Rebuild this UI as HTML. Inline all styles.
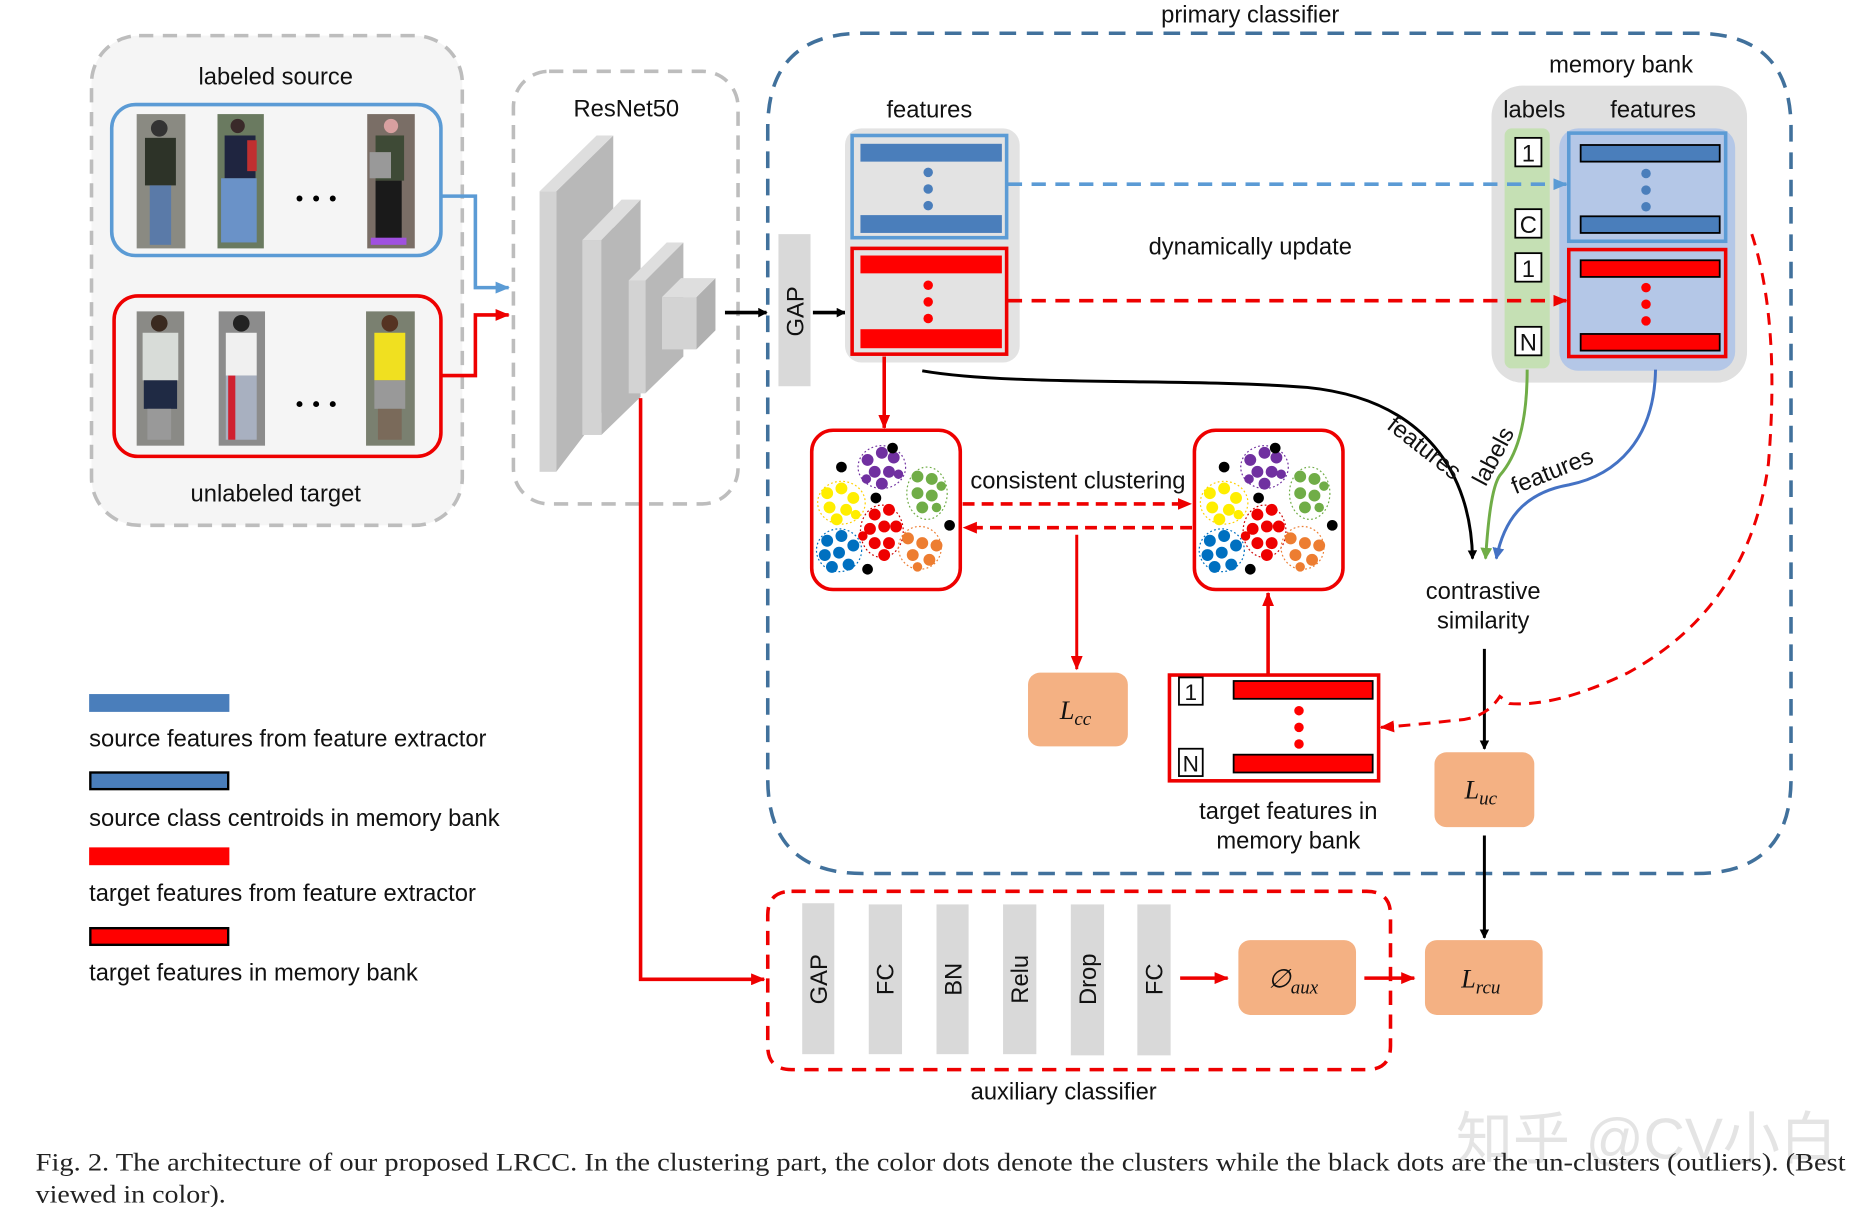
<!DOCTYPE html>
<html><head><meta charset="utf-8"><style>
html,body{margin:0;padding:0;background:#fff;}
svg{display:block;}
text{font-family:"Liberation Sans",sans-serif;fill:#111;}
.lbl{font-size:20px;}
.it{font-family:"Liberation Serif",serif;font-style:italic;}
</style></head><body>
<svg width="1854" height="1207" viewBox="0 0 1560 1015.6" preserveAspectRatio="none" xmlns="http://www.w3.org/2000/svg">
<defs>
<marker id="ab" markerWidth="8" markerHeight="8" refX="7" refY="4" orient="auto" markerUnits="userSpaceOnUse"><path d="M0,0 L8,4 L0,8 z" fill="#000"/></marker>
<marker id="ar" markerWidth="12" markerHeight="10" refX="11" refY="5" orient="auto" markerUnits="userSpaceOnUse"><path d="M0,0 L12,5 L0,10 z" fill="#e00"/></marker>
<marker id="al" markerWidth="12" markerHeight="10" refX="11" refY="5" orient="auto" markerUnits="userSpaceOnUse"><path d="M0,0 L12,5 L0,10 z" fill="#5b9bd5"/></marker>
<marker id="ag" markerWidth="10" markerHeight="10" refX="9" refY="5" orient="auto" markerUnits="userSpaceOnUse"><path d="M0,0 L10,5 L0,10 z" fill="#70ad47"/></marker>
<marker id="abl" markerWidth="10" markerHeight="10" refX="9" refY="5" orient="auto" markerUnits="userSpaceOnUse"><path d="M0,0 L10,5 L0,10 z" fill="#4472c4"/></marker>
<g id="cl">
 <ellipse cx="56" cy="30" rx="20" ry="18" fill="none" stroke="#7030a0" stroke-dasharray="1.5,2"/>
 <g fill="#7030a0"><circle cx="44" cy="24" r="5"/><circle cx="56" cy="18" r="5"/><circle cx="66" cy="22" r="5"/><circle cx="50" cy="34" r="5"/><circle cx="62" cy="34" r="5"/><circle cx="70" cy="36" r="4"/><circle cx="56" cy="44" r="5"/><circle cx="43" cy="40" r="4"/></g>
 <ellipse cx="94" cy="52" rx="17" ry="22" fill="none" stroke="#70ad47" stroke-dasharray="1.5,2"/>
 <g fill="#70ad47"><circle cx="86" cy="38" r="5"/><circle cx="98" cy="40" r="5"/><circle cx="86" cy="52" r="5"/><circle cx="98" cy="54" r="5"/><circle cx="90" cy="64" r="5"/><circle cx="102" cy="64" r="4"/><circle cx="106" cy="46" r="4"/></g>
 <ellipse cx="22" cy="60" rx="20" ry="18" fill="none" stroke="#ffd000" stroke-dasharray="1.5,2"/>
 <g fill="#ffee00"><circle cx="10" cy="52" r="5"/><circle cx="22" cy="48" r="5"/><circle cx="32" cy="56" r="5"/><circle cx="12" cy="64" r="5"/><circle cx="26" cy="66" r="5"/><circle cx="18" cy="74" r="5"/><circle cx="34" cy="70" r="4"/></g>
 <ellipse cx="56" cy="84" rx="18" ry="22" fill="none" stroke="#c00" stroke-dasharray="1.5,2"/>
 <g fill="#e00"><circle cx="50" cy="70" r="5"/><circle cx="62" cy="66" r="5"/><circle cx="46" cy="82" r="5"/><circle cx="58" cy="80" r="5"/><circle cx="68" cy="80" r="5"/><circle cx="50" cy="94" r="5"/><circle cx="62" cy="94" r="5"/><circle cx="58" cy="104" r="5"/><circle cx="40" cy="88" r="4"/></g>
 <ellipse cx="20" cy="100" rx="19" ry="18" fill="none" stroke="#0070c0" stroke-dasharray="1.5,2"/>
 <g fill="#0070c0"><circle cx="10" cy="92" r="5"/><circle cx="22" cy="88" r="5"/><circle cx="32" cy="96" r="5"/><circle cx="8" cy="104" r="5"/><circle cx="20" cy="102" r="5"/><circle cx="14" cy="114" r="5"/><circle cx="28" cy="112" r="5"/></g>
 <ellipse cx="88" cy="98" rx="18" ry="18" fill="none" stroke="#ed7d31" stroke-dasharray="1.5,2"/>
 <g fill="#ed7d31"><circle cx="78" cy="90" r="5"/><circle cx="90" cy="94" r="5"/><circle cx="102" cy="96" r="5"/><circle cx="82" cy="104" r="5"/><circle cx="96" cy="108" r="5"/><circle cx="86" cy="114" r="4"/></g>
 <g fill="#000"><circle cx="22" cy="30" r="4.5"/><circle cx="65" cy="14" r="4.5"/><circle cx="51" cy="56" r="4.5"/><circle cx="113" cy="79" r="4.5"/><circle cx="44" cy="116" r="4.5"/></g>
</g>
</defs>

<!-- input box -->
<rect x="77" y="30" width="312" height="412" rx="40" fill="#f5f5f5" stroke="#bdbdbd" stroke-width="3" stroke-dasharray="12,8"/>
<text x="232" y="71" class="lbl" text-anchor="middle">labeled source</text>
<rect x="94" y="88" width="277" height="127" rx="20" fill="#f5f5f5" stroke="#5b9bd5" stroke-width="3"/>
<rect x="115" y="96" width="41" height="113" fill="#8a8a82"/><circle cx="134" cy="108" r="7" fill="#333"/><rect x="122" y="116" width="26" height="40" fill="#2d3328"/><rect x="126" y="156" width="18" height="50" fill="#5a7aa8"/>
<rect x="183" y="96" width="39" height="113" fill="#6a7a60"/><circle cx="200" cy="106" r="6" fill="#3a2a2a"/><rect x="189" y="114" width="26" height="36" fill="#1f2540"/><rect x="208" y="118" width="8" height="26" fill="#c03030"/><rect x="186" y="150" width="30" height="54" fill="#6a92c8"/>
<rect x="309" y="96" width="40" height="113" fill="#7a6e66"/><circle cx="329" cy="106" r="6" fill="#d8a0a0"/><rect x="316" y="114" width="24" height="38" fill="#3e4a36"/><rect x="311" y="128" width="18" height="22" fill="#999"/><rect x="316" y="152" width="22" height="50" fill="#1a1a1a"/><rect x="312" y="200" width="30" height="6" fill="#a050e0"/>
<g fill="#000"><circle cx="252" cy="167" r="2.5"/><circle cx="266" cy="167" r="2.5"/><circle cx="280" cy="167" r="2.5"/></g>
<rect x="96" y="249" width="275" height="135" rx="20" fill="#f5f5f5" stroke="#e00" stroke-width="3"/>
<rect x="115" y="262" width="40" height="113" fill="#8a8a86"/><circle cx="134" cy="272" r="7" fill="#3a2a20"/><rect x="120" y="280" width="30" height="40" fill="#d8dcd8"/><rect x="121" y="320" width="28" height="24" fill="#1f2a44"/><rect x="124" y="344" width="20" height="26" fill="#999"/>
<rect x="184" y="262" width="39" height="113" fill="#8c8c8c"/><circle cx="203" cy="272" r="7" fill="#222"/><rect x="190" y="280" width="26" height="36" fill="#f0f0f0"/><rect x="190" y="316" width="26" height="54" fill="#a8b0c0"/><rect x="192" y="316" width="6" height="54" fill="#d02030"/>
<rect x="308" y="262" width="41" height="113" fill="#7a8070"/><circle cx="328" cy="272" r="7" fill="#553322"/><rect x="315" y="280" width="26" height="40" fill="#f0e020"/><rect x="315" y="320" width="26" height="24" fill="#999"/><rect x="318" y="344" width="20" height="26" fill="#7a6a5a"/>
<g fill="#000"><circle cx="252" cy="340" r="2.5"/><circle cx="266" cy="340" r="2.5"/><circle cx="280" cy="340" r="2.5"/></g>
<text x="232" y="422" class="lbl" text-anchor="middle">unlabeled target</text>
<path d="M371,165 H400 V242 H428" fill="none" stroke="#5b9bd5" stroke-width="3" marker-end="url(#al)"/>
<path d="M371,316 H400 V265 H428" fill="none" stroke="#e00" stroke-width="3" marker-end="url(#ar)"/>

<!-- ResNet -->
<rect x="432" y="60" width="189" height="364" rx="30" fill="#fff" stroke="#bdbdbd" stroke-width="3" stroke-dasharray="12,8"/>
<text x="527" y="98" class="lbl" text-anchor="middle">ResNet50</text>
<g>
 <polygon points="468,161 516,114 516,334 468,397" fill="#b8b8b8"/>
 <polygon points="454,161 502,114 516,114 468,161" fill="#dedede"/>
 <rect x="454" y="161" width="14" height="236" fill="#d3d3d3"/>
 <polygon points="506,202 539,168 539,334 506,366" fill="#b8b8b8"/>
 <polygon points="490,202 523,168 539,168 506,202" fill="#dedede"/>
 <rect x="490" y="202" width="16" height="164" fill="#d3d3d3"/>
 <polygon points="543,236 575,204 575,300 543,331" fill="#b8b8b8"/>
 <polygon points="529,236 561,204 575,204 543,236" fill="#dedede"/>
 <rect x="529" y="236" width="14" height="95" fill="#d3d3d3"/>
 <polygon points="586,250 602,234 602,278 586,294" fill="#b0b0b0"/>
 <polygon points="557,250 573,234 602,234 586,250" fill="#dedede"/>
 <rect x="557" y="250" width="29" height="44" fill="#d3d3d3"/>
</g>
<line x1="610" y1="263" x2="645" y2="263" stroke="#000" stroke-width="3" marker-end="url(#ab)"/>

<!-- primary classifier -->
<path d="M726,28 H1427 Q1507,28 1507,108 V655 Q1507,735 1427,735 H726 Q646,735 646,655 V108 Q646,28 726,28 Z" fill="none" stroke="#41719c" stroke-width="3" stroke-dasharray="14,9"/>
<text x="1052" y="19" class="lbl" text-anchor="middle">primary classifier</text>
<rect x="655" y="197" width="27" height="128" fill="#d9d9d9"/>
<text class="lbl" transform="translate(676,262) rotate(-90)" text-anchor="middle">GAP</text>
<line x1="684" y1="263" x2="711" y2="263" stroke="#000" stroke-width="3" marker-end="url(#ab)"/>

<text x="782" y="99" class="lbl" text-anchor="middle">features</text>
<rect x="711" y="108" width="147" height="197" rx="14" fill="#e3e3e3"/>
<rect x="717" y="114" width="130" height="86" fill="#e3e3e3" stroke="#5b9bd5" stroke-width="3"/>
<rect x="724" y="121" width="119" height="15" fill="#4a7ebb"/><rect x="724" y="181" width="119" height="15" fill="#4a7ebb"/>
<g fill="#4a7ebb"><circle cx="781" cy="145" r="4"/><circle cx="781" cy="159" r="4"/><circle cx="781" cy="173" r="4"/></g>
<rect x="717" y="209" width="130" height="89" fill="#e3e3e3" stroke="#e00" stroke-width="3"/>
<rect x="724" y="215" width="119" height="15" fill="#f00"/><rect x="724" y="277" width="119" height="16" fill="#f00"/>
<g fill="#f00"><circle cx="781" cy="240" r="4"/><circle cx="781" cy="254" r="4"/><circle cx="781" cy="268" r="4"/></g>

<text x="1052" y="214" class="lbl" text-anchor="middle">dynamically update</text>

<!-- memory bank -->
<text x="1364" y="61" class="lbl" text-anchor="middle">memory bank</text>
<rect x="1255" y="72" width="215" height="250" rx="26" fill="#e0e0e0"/>
<text x="1291" y="99" class="lbl" text-anchor="middle">labels</text>
<text x="1391" y="99" class="lbl" text-anchor="middle">features</text>
<rect x="1266" y="108" width="38" height="202" rx="6" fill="#c5e0b4"/>
<g fill="#fff" stroke="#000" stroke-width="1.5">
<rect x="1275" y="116" width="22" height="24"/><rect x="1275" y="176" width="22" height="24"/><rect x="1275" y="213" width="22" height="24"/><rect x="1275" y="275" width="22" height="24"/></g>
<g font-size="20" text-anchor="middle"><text x="1286" y="136">1</text><text x="1286" y="196">C</text><text x="1286" y="233">1</text><text x="1286" y="295">N</text></g>
<rect x="1312" y="108" width="148" height="204" rx="16" fill="#b4c7e7"/>
<rect x="1320" y="112" width="132" height="91" fill="none" stroke="#5b9bd5" stroke-width="3"/>
<rect x="1330" y="122" width="117" height="14" fill="#4a7ebb" stroke="#000" stroke-width="1.5"/><rect x="1330" y="182" width="117" height="14" fill="#4a7ebb" stroke="#000" stroke-width="1.5"/>
<g fill="#4a7ebb"><circle cx="1385" cy="146" r="4"/><circle cx="1385" cy="160" r="4"/><circle cx="1385" cy="174" r="4"/></g>
<rect x="1320" y="210" width="132" height="90" fill="none" stroke="#e00" stroke-width="3"/>
<rect x="1330" y="219" width="117" height="14" fill="#f00" stroke="#000" stroke-width="1.5"/><rect x="1330" y="281" width="117" height="14" fill="#f00" stroke="#000" stroke-width="1.5"/>
<g fill="#f00"><circle cx="1385" cy="242" r="4"/><circle cx="1385" cy="256" r="4"/><circle cx="1385" cy="270" r="4"/></g>

<line x1="848" y1="155" x2="1318" y2="155" stroke="#5b9bd5" stroke-width="3" stroke-dasharray="12,8" marker-end="url(#al)"/>
<line x1="848" y1="253" x2="1318" y2="253" stroke="#e00" stroke-width="3" stroke-dasharray="12,8" marker-end="url(#ar)"/>

<!-- curves -->
<path d="M776,312 C850,325 1000,318 1100,326 C1200,336 1238,400 1239,470" fill="none" stroke="#000" stroke-width="2.5" marker-end="url(#ab)"/>
<path d="M1285,311 C1285,360 1275,385 1262,400 C1255,410 1252,440 1250,470" fill="none" stroke="#70ad47" stroke-width="2.5" marker-end="url(#ag)"/>
<path d="M1393,311 C1392,370 1360,400 1320,408 C1280,415 1265,440 1259,470" fill="none" stroke="#4472c4" stroke-width="2.5" marker-end="url(#abl)"/>
<text class="lbl" transform="translate(1166,360) rotate(38)">features</text>
<text class="lbl" transform="translate(1250,410) rotate(-62)">labels</text>
<text class="lbl" transform="translate(1275,416) rotate(-22)">features</text>
<text x="1248" y="504" class="lbl" text-anchor="middle">contrastive</text>
<text x="1248" y="529" class="lbl" text-anchor="middle">similarity</text>
<line x1="1249" y1="546" x2="1249" y2="630" stroke="#000" stroke-width="2.5" marker-end="url(#ab)"/>

<path d="M1474,197 Q1498,270 1488,390 Q1472,510 1370,566 Q1310,595 1270,592 L1262,586 Q1250,605 1225,606 Q1190,610 1162,612" fill="none" stroke="#e00" stroke-width="2.5" stroke-dasharray="10,7" marker-end="url(#ar)"/>

<!-- clusters -->
<line x1="744" y1="300" x2="744" y2="360" stroke="#e00" stroke-width="3" marker-end="url(#ar)"/>
<rect x="683" y="362" width="125" height="134" rx="18" fill="#fff" stroke="#e00" stroke-width="3"/>
<use href="#cl" x="686" y="363"/>
<rect x="1005" y="362" width="125" height="134" rx="18" fill="#fff" stroke="#e00" stroke-width="3"/>
<use href="#cl" x="1008" y="363"/>
<text x="907" y="411" class="lbl" text-anchor="middle">consistent clustering</text>
<line x1="810" y1="424" x2="1002" y2="424" stroke="#e00" stroke-width="3" stroke-dasharray="10,6" marker-end="url(#ar)"/>
<line x1="1003" y1="444" x2="811" y2="444" stroke="#e00" stroke-width="3" stroke-dasharray="10,6" marker-end="url(#ar)"/>
<line x1="906" y1="450" x2="906" y2="563" stroke="#e00" stroke-width="2.5" marker-end="url(#ar)"/>
<rect x="865" y="566" width="84" height="62" rx="10" fill="#f4b183"/>
<text x="905" y="605" font-size="22" class="it" text-anchor="middle">L<tspan font-size="16" dy="5">cc</tspan></text>

<rect x="984" y="568" width="176" height="89" fill="#fff" stroke="#e00" stroke-width="3"/>
<rect x="992" y="570" width="20" height="23" fill="#fff" stroke="#000" stroke-width="1.5"/><text x="1002" y="589" font-size="19" text-anchor="middle">1</text>
<rect x="992" y="630" width="20" height="23" fill="#fff" stroke="#000" stroke-width="1.5"/><text x="1002" y="649" font-size="19" text-anchor="middle">N</text>
<rect x="1038" y="573" width="117" height="15" fill="#f00" stroke="#000" stroke-width="1.5"/><rect x="1038" y="635" width="117" height="15" fill="#f00" stroke="#000" stroke-width="1.5"/>
<g fill="#f00"><circle cx="1093" cy="598" r="4"/><circle cx="1093" cy="612" r="4"/><circle cx="1093" cy="626" r="4"/></g>
<line x1="1067" y1="567" x2="1067" y2="499" stroke="#e00" stroke-width="3" marker-end="url(#ar)"/>
<text x="1084" y="689" class="lbl" text-anchor="middle">target features in</text>
<text x="1084" y="714" class="lbl" text-anchor="middle">memory bank</text>

<rect x="1207" y="633" width="84" height="63" rx="10" fill="#f4b183"/>
<text x="1246" y="672" font-size="22" class="it" text-anchor="middle">L<tspan font-size="16" dy="5">uc</tspan></text>
<line x1="1249" y1="703" x2="1249" y2="789" stroke="#000" stroke-width="2.5" marker-end="url(#ab)"/>

<!-- auxiliary -->
<path d="M666,750 H1150 Q1170,750 1170,770 V880 Q1170,900 1150,900 H666 Q646,900 646,880 V770 Q646,750 666,750 Z" fill="none" stroke="#e00" stroke-width="3" stroke-dasharray="12,8"/>
<g fill="#d9d9d9"><rect x="675" y="760" width="27" height="127"/><rect x="731" y="761" width="28" height="126"/><rect x="788" y="761" width="27" height="126"/><rect x="844" y="761" width="28" height="126"/><rect x="901" y="761" width="28" height="127"/><rect x="957" y="761" width="28" height="127"/></g>
<g class="lbl">
<text transform="translate(696,824) rotate(-90)" text-anchor="middle" font-size="20">GAP</text>
<text transform="translate(752,824) rotate(-90)" text-anchor="middle" font-size="20">FC</text>
<text transform="translate(809,824) rotate(-90)" text-anchor="middle" font-size="20">BN</text>
<text transform="translate(865,824) rotate(-90)" text-anchor="middle" font-size="20">Relu</text>
<text transform="translate(922,824) rotate(-90)" text-anchor="middle" font-size="20">Drop</text>
<text transform="translate(978,824) rotate(-90)" text-anchor="middle" font-size="20">FC</text>
</g>
<line x1="993" y1="823" x2="1033" y2="823" stroke="#e00" stroke-width="3" marker-end="url(#ar)"/>
<rect x="1042" y="791" width="99" height="63" rx="10" fill="#f4b183"/>
<text x="1088" y="831" font-size="22" class="it" text-anchor="middle">∅<tspan font-size="16" dy="5">aux</tspan></text>
<line x1="1148" y1="823" x2="1190" y2="823" stroke="#e00" stroke-width="3" marker-end="url(#ar)"/>
<rect x="1199" y="791" width="99" height="63" rx="10" fill="#f4b183"/>
<text x="1246" y="831" font-size="22" class="it" text-anchor="middle">L<tspan font-size="16" dy="5">rcu</tspan></text>
<text x="895" y="925" class="lbl" text-anchor="middle">auxiliary classifier</text>

<path d="M539,335 V824 H643" fill="none" stroke="#e00" stroke-width="3" marker-end="url(#ar)"/>

<!-- legend -->
<rect x="75" y="584" width="118" height="15" fill="#4a7ebb"/>
<text x="75" y="628" class="lbl">source features from feature extractor</text>
<rect x="76" y="650" width="116" height="14" fill="#4a7ebb" stroke="#000" stroke-width="2"/>
<text x="75" y="695" class="lbl">source class centroids in memory bank</text>
<rect x="75" y="713" width="118" height="15" fill="#f00"/>
<text x="75" y="758" class="lbl">target features from feature extractor</text>
<rect x="76" y="781" width="116" height="14" fill="#f00" stroke="#000" stroke-width="2"/>
<text x="75" y="825" class="lbl">target features in memory bank</text>

<!-- watermark -->
<text x="1225" y="975" font-size="48" style="font-family:'Liberation Sans','Noto Sans CJK SC',sans-serif;fill:#e4e4e4">知乎 @CV小白</text>

<!-- caption -->
<text x="30" y="985" font-size="21" textLength="1523" lengthAdjust="spacingAndGlyphs" style="font-family:'Liberation Serif',serif;fill:#222">Fig. 2.    The architecture of our proposed LRCC. In the clustering part, the color dots denote the clusters while the black dots are the un-clusters (outliers). (Best</text>
<text x="30" y="1012" font-size="21" textLength="160" lengthAdjust="spacingAndGlyphs" style="font-family:'Liberation Serif',serif;fill:#222">viewed in color).</text>
</svg>
</body></html>
